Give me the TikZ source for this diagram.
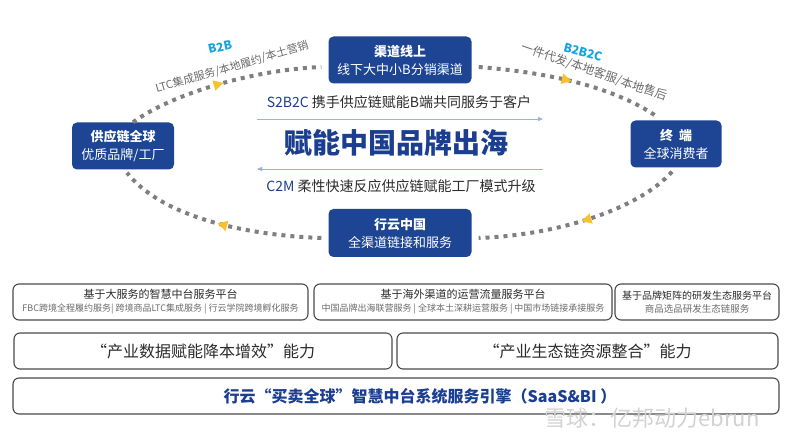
\documentclass[tikz,border=0pt]{standalone}
\usepackage{fontspec}
\setmainfont{Noto Sans CJK SC}
\usepackage{xcolor}
\usepackage{tikz}
\usetikzlibrary{arrows.meta, positioning, decorations.markings}

\definecolor{navy}{HTML}{1D4594}
\definecolor{titleblue}{HTML}{1B3E90}
\definecolor{cyanlbl}{HTML}{12A5DF}
\definecolor{dotgray}{HTML}{7F7F7F}
\definecolor{tipyellow}{HTML}{F8C130}
\definecolor{linkblue}{HTML}{8DB6E2}
\definecolor{boxgray}{HTML}{4A4A4A}
\definecolor{txtdark}{HTML}{2B2B2B}
\definecolor{txtgray}{HTML}{6B6B6B}

\begin{document}
\begin{tikzpicture}[
    x=1pt, y=-1pt,
    hub/.style={fill=navy, rounded corners=5pt, text=white, align=center, font=\fontsize{13}{18}\selectfont, inner sep=0pt},
    flow/.style={draw=dotgray, line width=4pt, dash pattern=on 4pt off 5pt,
        postaction={decorate, decoration={markings, mark=at position 0.5 with {\arrow{Triangle[length=10pt,width=10pt,color=tipyellow,fill=tipyellow]}}}}},
    arclbl/.style={text=cyanlbl, font=\fontsize{12}{14}\selectfont\bfseries},
    arcnote/.style={text=txtgray, font=\fontsize{11}{13}\selectfont},
    link/.style={draw=linkblue, line width=0.8pt, -{Triangle[length=5pt,width=4pt]}},
    mode/.style={text=txtdark, font=\fontsize{14}{16}\selectfont},
    plat/.style={draw=boxgray, line width=1.1pt, rounded corners=6pt, align=center, inner sep=0pt, minimum height=36pt},
    ability/.style={plat, text=txtdark, font=\fontsize{16}{18}\selectfont}
]
    \fill[white] (0,0) rectangle (800,443);
    \useasboundingbox (0,0) rectangle (800,443);

    % Hubs
    \node[hub, minimum width=143pt, minimum height=47pt] (channel) at (400,60) {{\bfseries 渠道线上}\\线下大中小B分销渠道};
    \node[hub, minimum width=102pt, minimum height=47pt] (supply) at (123,146) {{\bfseries 供应链全球}\\优质品牌/工厂};
    \node[hub, minimum width=91pt, minimum height=47pt] (terminal) at (676,144) {{\bfseries 终\hspace{6pt}端}\\全球消费者};
    \node[hub, minimum width=143pt, minimum height=48pt] (xingyun) at (400,233) {{\bfseries 行云中国}\\全渠道链接和服务};

    % Loop
    \draw[flow] ([xshift=10pt]supply.north) .. controls (170,95) and (250,70) .. ([xshift=-7pt,yshift=-7pt]channel.west);
    \draw[flow] ([xshift=7pt,yshift=-7pt]channel.east) .. controls (540,72) and (610,84) .. ([xshift=-18pt,yshift=3pt]terminal.north);
    \draw[flow] ([xshift=-4pt,yshift=-4pt]terminal.south) .. controls (640,208) and (560,235) .. ([xshift=7pt,yshift=-5pt]xingyun.east);
    \draw[flow] ([xshift=-7pt,yshift=-5pt]xingyun.west) .. controls (240,235) and (160,215) .. ([xshift=4pt,yshift=-3pt]supply.south);

    \node[arclbl, rotate=12] (b2b) at (220,47) {B2B};
    \node[arcnote, rotate=16] (b2b_note) at (232,67) {LTC集成服务/本地履约/本土营销};
    \node[arclbl, rotate=-15] (b2b2c) at (583,52) {B2B2C};
    \node[arcnote, rotate=-19, font=\fontsize{12}{14}\selectfont] (b2b2c_note) at (594,72) {一件代发/本地客服/本地售后};

    % Centre
    \node[mode] (s2b2c) at (399,102) {\textcolor{titleblue}{S2B2C} 携手供应链赋能B端共同服务于客户};
    \coordinate (s2b2c_l) at (257,119);
    \coordinate (s2b2c_r) at (543,119);
    \draw[link] (s2b2c_l) -- (s2b2c_r);
    \node[text=titleblue, font=\fontsize{28}{32}\selectfont\bfseries] (slogan) at (396,143) {赋能中国品牌出海};
    \coordinate (c2m_r) at (543,169);
    \coordinate (c2m_l) at (257,169);
    \draw[link] (c2m_r) -- (c2m_l);
    \node[mode] (c2m) at (401,186) {\textcolor{titleblue}{C2M} 柔性快速反应供应链赋能工厂模式升级};

    % Platforms
    \node[plat, minimum width=295pt, font=\fontsize{11}{14}\selectfont] (plat_mid) at (160.5,302) {\textcolor{txtdark}{基于大服务的智慧中台服务平台}\\[-1pt]{\fontsize{9}{11}\selectfont\color{txtgray}FBC跨境全程履约服务| 跨境商品LTC集成服务 | 行云学院跨境孵化服务}};
    \node[plat, minimum width=298pt, font=\fontsize{11}{14}\selectfont] (plat_ops) at (463,302) {\textcolor{txtdark}{基于海外渠道的运营流量服务平台}\\[-1pt]{\fontsize{9}{11}\selectfont\color{txtgray}中国品牌出海联营服务 | 全球本土深耕运营服务 | 中国市场链接承接服务}};
    \node[plat, minimum width=164pt, font=\fontsize{10}{14}\selectfont] (plat_rd) at (697,302) {\textcolor{txtdark}{基于品牌矩阵的研发生态服务平台}\\[-1pt]{\fontsize{9.5}{11}\selectfont\color{txtgray}商品选品研发生态链服务}};

    % Abilities
    \node[ability, minimum width=378pt] (data_cap) at (203,351) {“产业数据赋能降本增效”能力};
    \node[ability, minimum width=381pt] (eco_cap) at (587.5,351) {“产业生态链资源整合”能力};

    % Engine
    \node[plat, minimum width=766pt] (engine) at (396,396) {};
    \node[text=titleblue, font=\fontsize{16}{18}\selectfont\bfseries] (engine_txt) at (420,396) {行云“买卖全球”智慧中台系统服务引擎（SaaS\&BI ）};

    \node[text=gray!35, font=\fontsize{22}{24}\selectfont] (mark) at (652,418) {雪球：亿邦动力ebrun};
\end{tikzpicture}
\end{document}
